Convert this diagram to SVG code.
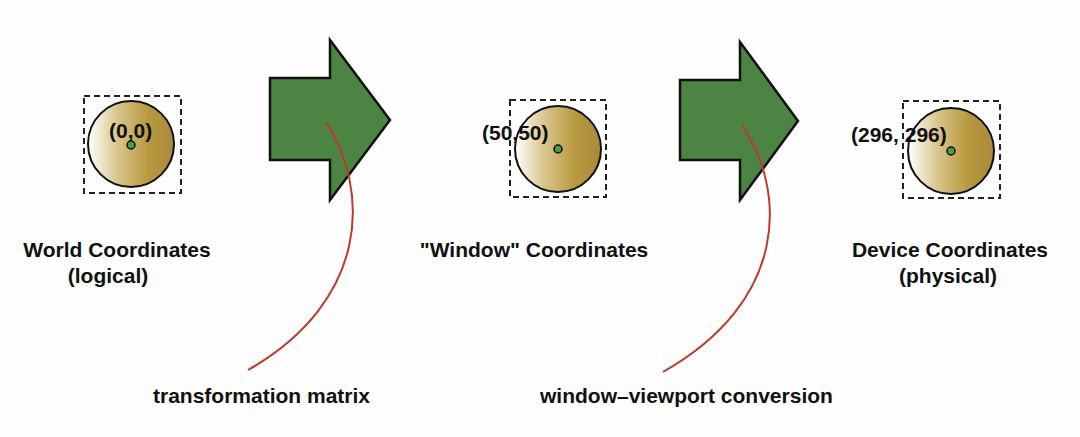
<svg xmlns="http://www.w3.org/2000/svg" width="1080" height="437" viewBox="0 0 1080 437">
<defs>
<linearGradient id="g" x1="0" y1="0.5" x2="1" y2="0.5">
<stop offset="0" stop-color="#ffffff"/><stop offset="0.35" stop-color="#d8c48a"/><stop offset="0.7" stop-color="#b8993f"/><stop offset="1" stop-color="#a88a3a"/>
</linearGradient>
<style>
.box{fill:none;stroke:#222;stroke-width:2;stroke-dasharray:6 4}
.c{fill:url(#g);stroke:#111;stroke-width:2}
.d{fill:#4a9a4a;stroke:#111;stroke-width:1.5}
.ar{fill:#4c8543;stroke:#111;stroke-width:2.5;stroke-linejoin:miter}
.r{fill:none;stroke:#c0392b;stroke-width:2}
text{font-family:"Liberation Sans",Arial,sans-serif;font-weight:bold;fill:#111}
.t{font-size:21px;text-anchor:middle}
.l{font-size:21px}
</style>
</defs>
<rect width="1080" height="437" fill="#fefefe"/>
<g id="world">
<rect class="box" x="84" y="96" width="97" height="97"/>
<circle class="c" cx="131" cy="144" r="43"/>
<circle class="d" cx="131" cy="145" r="4"/>
<text class="l" x="109" y="138">(0,0)</text>
<text class="t" x="117" y="257">World Coordinates</text>
<text class="t" x="108" y="283">(logical)</text>
</g>
<g id="window">
<rect class="box" x="510" y="100" width="96" height="97"/>
<circle class="c" cx="558" cy="149" r="43"/>
<circle class="d" cx="558" cy="149" r="4"/>
<text class="l" x="482" y="140">(50,50)</text>
<text class="t" x="534" y="257">"Window" Coordinates</text>
</g>
<g id="device">
<rect class="box" x="903" y="101" width="97" height="97"/>
<circle class="c" cx="951" cy="151" r="43"/>
<circle class="d" cx="951" cy="151" r="4"/>
<text class="l" x="851" y="142">(296, 296)</text>
<text class="t" x="950" y="257">Device Coordinates</text>
<text class="t" x="948" y="283">(physical)</text>
</g>
<g id="arrow1"><polygon class="ar" points="270,78 330,78 330,40 390,120 330,200 330,160 270,160"/></g>
<g id="arrow2"><polygon class="ar" points="680,80 740,80 740,42 798,121 740,200 740,160 680,160"/></g>
<g id="connectors">
<path class="r" d="M326,122 C370,190 370,300 248,370"/>
<path class="r" d="M742,125 C786,190 790,300 663,372"/>
</g>
<text class="l" x="153" y="403">transformation matrix</text>
<text class="l" x="540" y="403">window–viewport conversion</text>
</svg>
